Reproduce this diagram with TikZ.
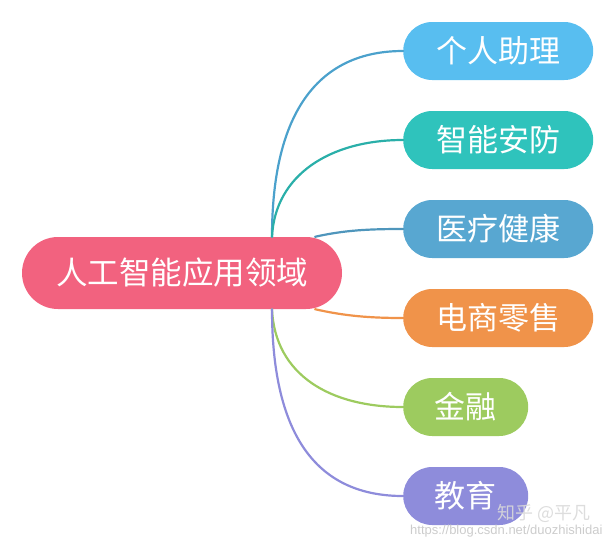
\documentclass[tikz,border=0pt]{standalone}
\usepackage{fontspec}
\newfontfamily\cjk{Noto Sans CJK SC}
\newfontfamily\wmfont{Liberation Sans}
\usetikzlibrary{positioning}
\definecolor{rootpink}{HTML}{F2627F}
\definecolor{cassist}{HTML}{58BEF0}
\definecolor{csecure}{HTML}{2FC3BC}
\definecolor{chealth}{HTML}{58A7D1}
\definecolor{cretail}{HTML}{F0934A}
\definecolor{cfinance}{HTML}{9DCB5F}
\definecolor{cedu}{HTML}{8E8CDB}
\tikzset{
  rootbox/.style={fill=rootpink,text=white,minimum width=320,minimum height=72,rounded corners=36,inner sep=0,font=\cjk\fontsize{31.5}{36}\selectfont},
  leafbox/.style={text=white,minimum height=58,rounded corners=29,inner sep=0,anchor=west,font=\cjk\fontsize{31}{36}\selectfont},
  wide/.style={leafbox,minimum width=190},
  narrow/.style={leafbox,minimum width=125},
  link/.style={line width=2.2,line cap=round}
}
\begin{document}
\begin{tikzpicture}[x=1pt,y=-1pt]
\useasboundingbox (0,0) rectangle (613,547);
\node[rootbox] (root) at (182,273) {人工智能应用领域};
\node[wide,fill=cassist] (assist) at (403,51) {个人助理};
\node[wide,fill=csecure] (secure) at (403,140) {智能安防};
\node[wide,fill=chealth] (health) at (403,229) {医疗健康};
\node[wide,fill=cretail] (retail) at (403,318) {电商零售};
\node[narrow,fill=cfinance] (finance) at (403,407) {金融};
\node[narrow,fill=cedu] (edu) at (403,496) {教育};
\coordinate (topA) at ([xshift=90]root.north);
\coordinate (topB) at ([xshift=133]root.north);
\coordinate (botA) at ([xshift=90]root.south);
\coordinate (botB) at ([xshift=133]root.south);
\draw[link,cassist!85!black] (topA) .. controls (272,110) and (320,51) .. (assist.west);
\draw[link,csecure!90!black] (topA) .. controls (275,175) and (330,140) .. (secure.west);
\draw[link,chealth!90!black] (topB) .. controls (345,230) and (370,229) .. (health.west);
\draw[link,cretail] (botB) .. controls (345,316) and (370,318) .. (retail.west);
\draw[link,cfinance] (botA) .. controls (275,375) and (330,407) .. (finance.west);
\draw[link,cedu] (botA) .. controls (272,440) and (320,496) .. (edu.west);
\node[text=gray!40,font=\wmfont\fontsize{13}{15}\selectfont,anchor=east] (url) at (606,531) {https://blog.csdn.net/duozhishidai};
\node[text=gray!30,opacity=0.9,font=\cjk\fontsize{18}{20}\selectfont,anchor=east] (zhihu) at (594,513) {知乎 @平凡};
\end{tikzpicture}
\end{document}
